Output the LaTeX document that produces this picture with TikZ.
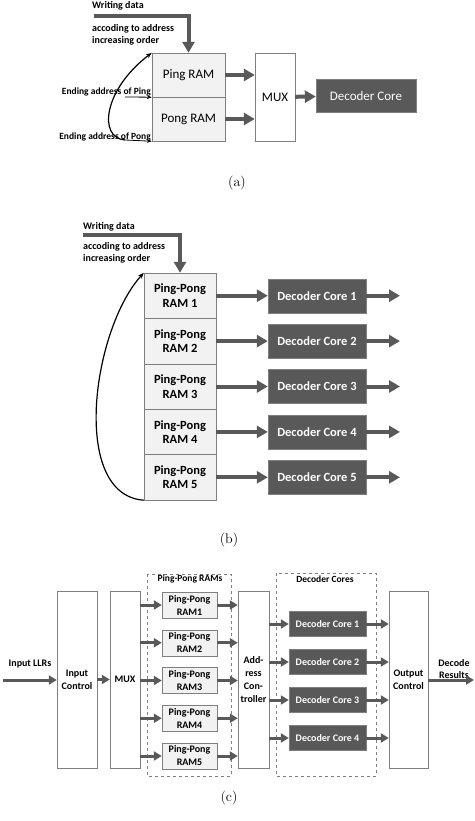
\documentclass[tikz,border=0pt]{standalone}
\usepackage{fontspec}
\newfontfamily\carlito{Carlito}
\usetikzlibrary{arrows.meta}
\definecolor{boxline}{HTML}{7F7F7F}
\definecolor{ramfill}{HTML}{F2F2F2}
\definecolor{coregray}{HTML}{595959}
\begin{document}
\begin{tikzpicture}[x=1pt,y=-1pt,
  fat/.style={draw=coregray, line width=4pt, -{Triangle[length=11pt,width=12pt]}},
  fatc/.style={draw=coregray, line width=3pt, -{Triangle[length=8pt,width=9pt]}},
  ram/.style={draw=boxline, fill=ramfill, minimum width=73pt, minimum height=44pt, inner sep=0pt, font=\carlito\fontsize{13}{15}\selectfont},
  plainbox/.style={draw=boxline, fill=white, inner sep=0pt, align=center},
  corebox/.style={draw=boxline, fill=coregray, text=white, inner sep=0pt},
  lbl/.style={inner sep=0pt, font=\carlito\bfseries\fontsize{10}{12}\selectfont, align=left},
  caption/.style={inner sep=0pt, font=\fontsize{14}{16}\selectfont}]
\useasboundingbox (0,0) rectangle (474,821);

% (a)
\node[ram] (ping) at (188.5,75) {Ping RAM};
\node[ram] (pong) at (188.5,119) {Pong RAM};
\node[plainbox, minimum width=40pt, minimum height=88pt, font=\carlito\fontsize{13}{15}\selectfont] (muxa) at (275,97) {MUX};
\node[corebox, minimum width=100pt, minimum height=33pt, font=\carlito\fontsize{13}{15}\selectfont] (corea) at (366,96) {Decoder Core};
\draw[fat] (ping) -- (ping -| muxa.west);
\draw[fat] (pong) -- (pong -| muxa.west);
\draw[fat] (muxa) -- (corea);
\node[lbl, anchor=west] (wda) at (92,6) {Writing data};
\node[lbl, anchor=north west] (orda) at (92,24) {accoding to address\\increasing order};
\coordinate (wa) at (94,16);
\draw[fat] (wa) -| (ping.north);
\node[lbl, anchor=east, font=\carlito\bfseries\fontsize{9.5}{11}\selectfont] (endping) at (151,92) {Ending address of Ping};
\node[lbl, anchor=east, font=\carlito\bfseries\fontsize{9.5}{11}\selectfont] (endpong) at (151,137) {Ending address of Pong};
\coordinate (ep) at (125,97);
\coordinate (eq) at (125,140);
\draw[thick, -{Stealth[length=5pt]}] (ep) -- (ping.south west);
\draw[thick, -{Stealth[length=5pt]}] (eq) -- (pong.south west);
\draw[line width=1.2pt, -{Stealth[length=6pt]}] (eq) .. controls (98,138) and (103,90) .. (ping.north west);
\node[caption] (capa) at (237,183) {(a)};

% (b)
\foreach \i in {1,...,5}{
  \node[ram, minimum width=72pt, minimum height=45.4pt, align=center, font=\carlito\bfseries\fontsize{12.5}{14.5}\selectfont] (r\i) at (180,250.3+45.4*\i) {Ping-Pong\\RAM \i};
  \node[corebox, minimum width=98pt, minimum height=34pt, font=\carlito\bfseries\fontsize{12.5}{14.5}\selectfont] (c\i) at (317,250.3+45.4*\i) {Decoder Core \i};
  \coordinate (o\i) at (400,250.3+45.4*\i);
  \draw[fat] (r\i) -- (c\i);
  \draw[fat] (c\i) -- (o\i);
}
\node[lbl, anchor=west] (wdb) at (83,227) {Writing data};
\node[lbl, anchor=north west] (ordb) at (83,242) {accoding to address\\increasing order};
\coordinate (wb) at (83,235);
\draw[fat] (wb) -| (r1.north);
\draw[line width=1.2pt, -{Stealth[length=6pt]}] (r5.south west) .. controls (70,495) and (92,330) .. (r1.north west);
\node[caption] (capb) at (229,540) {(b)};

% (c)
\begin{scope}[every node/.append style={font=\carlito\bfseries\fontsize{10}{13}\selectfont}]
\node[plainbox, minimum width=40pt, minimum height=177pt] (inctl) at (77,679.5) {Input\\Control};
\node[plainbox, minimum width=30pt, minimum height=177pt] (muxc) at (125,679.5) {MUX};
\node[plainbox, minimum width=31pt, minimum height=177pt] (addr) at (253.5,679.5) {Add-\\ress\\Con-\\troller};
\node[plainbox, minimum width=39pt, minimum height=177pt] (outctl) at (408.5,679.5) {Output\\Control};
\draw[boxline, dashed, thick] (147,574) rectangle (231,776);
\draw[boxline, dashed, thick] (276,573) rectangle (376,776);
\node[lbl, anchor=north, font=\carlito\bfseries\fontsize{9.5}{11}\selectfont] (ramgrp) at (190,575) {Ping-Pong RAMs};
\node[lbl, anchor=north, font=\carlito\bfseries\fontsize{9.5}{11}\selectfont] (coregrp) at (325,576) {Decoder Cores};
\foreach \i in {1,...,5}{
  \node[ram, minimum width=55pt, minimum height=26pt, align=center, font=\carlito\bfseries\fontsize{10}{13}\selectfont] (p\i) at (189.5,567.25+37.75*\i) {Ping-Pong\\RAM\i};
  \draw[fatc] (muxc.east |- p\i) -- (p\i);
  \draw[fatc] (p\i) -- (p\i -| addr.west);
}
\foreach \i in {1,...,4}{
  \node[corebox, minimum width=77pt, minimum height=25pt] (k\i) at (327.5,586+38*\i) {Decoder Core \i};
  \draw[fatc] (addr.east |- k\i) -- (k\i);
  \draw[fatc] (k\i) -- (k\i -| outctl.west);
}
\coordinate (inllr) at (3,680);
\coordinate (outres) at (474,680);
\node[lbl, anchor=south] (inlbl) at (30,668) {Input LLRs};
\node[lbl, align=center] (outlbl) at (454,669) {Decode\\Results};
\draw[fatc] (inllr) -- (inctl.west |- inllr);
\draw[fatc] (inctl) -- (muxc);
\draw[fatc] (outctl.east |- outres) -- (outres);
\end{scope}
\node[caption] (capc) at (229,798) {(c)};
\end{tikzpicture}
\end{document}
